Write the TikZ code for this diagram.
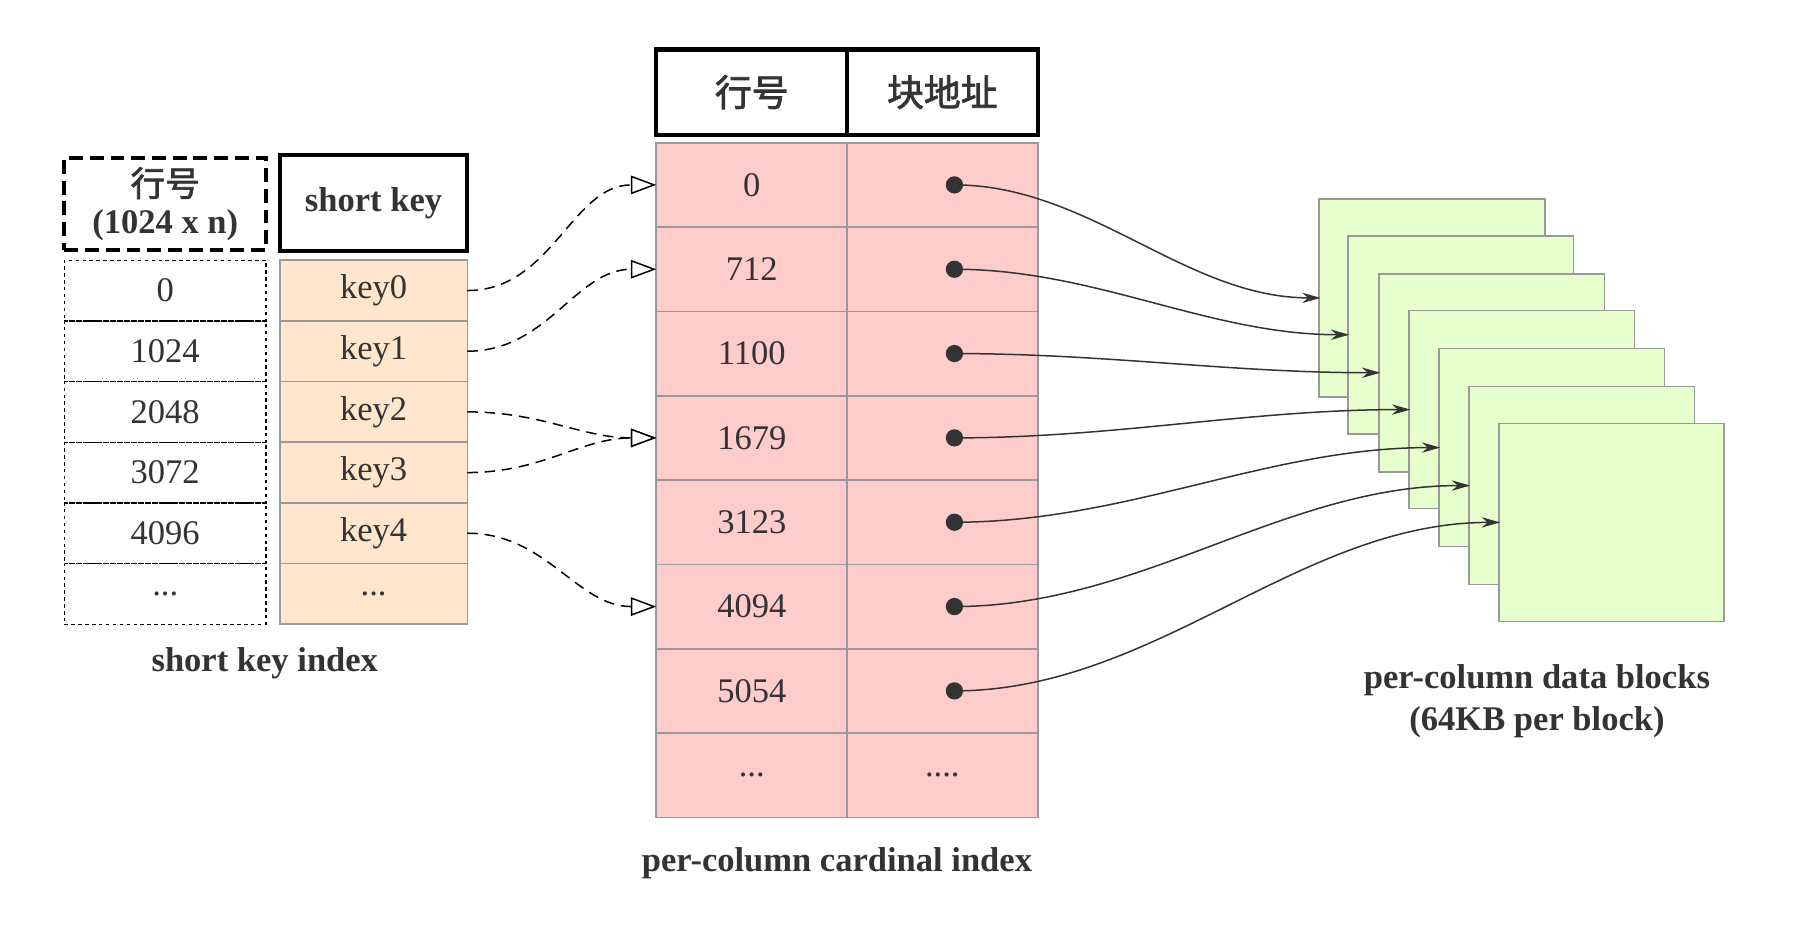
\documentclass[tikz,border=0pt]{standalone}
\usepackage{fontspec}
\setmainfont{Liberation Serif}
\newfontfamily\cjk{Noto Sans CJK SC}[AutoFakeBold=2]
\usetikzlibrary{arrows.meta}
\definecolor{tx}{HTML}{333333}
\definecolor{gr}{HTML}{999999}
\begin{document}
\begin{tikzpicture}[x=1pt,y=-1pt,
  every node/.style={text=tx,font=\fontsize{30}{36}\selectfont},
  cell/.style={draw=gr,line width=1.5pt,minimum width=#1,inner sep=0pt,outer sep=0pt},
  dcell/.style={draw=black,dashed,line width=1.2pt,minimum width=175,minimum height=52.7,inner sep=0pt,outer sep=0pt},
  kcell/.style={cell=163,fill={rgb,255:red,255;green,230;blue,204},minimum height=52.7},
  pcell/.style={cell=166,fill={rgb,255:red,255;green,204;blue,204},minimum height=73.25},
  blk/.style={draw=gr,line width=1.5pt,fill={rgb,255:red,230;green,255;blue,204},minimum width=196,minimum height=172,inner sep=0pt},
  hd/.style={draw=black,line width=3.5pt,inner sep=0pt,outer sep=0pt},
  sarr/.style={draw=tx,line width=1.3pt,-{Stealth[length=16pt,width=9pt]}},
  darr/.style={draw=black,line width=1.3pt,dash pattern=on 9pt off 6pt,-{Triangle[open,length=22pt,width=16pt,fill=white]}},
  captxt/.style={font=\fontsize{30}{36}\selectfont\bfseries}]
\useasboundingbox (0,0) rectangle (1560,804);
% left table
\node[hd,dash pattern=on 12pt off 6pt,minimum width=175,minimum height=80,align=center] (lh) at (143.5,177) {{\cjk\bfseries 行号}\\[-4pt]\textbf{(1024 x n)}};
\node[hd,minimum width=163,minimum height=83,captxt] (kh) at (324.5,176.5) {short key};
\foreach \t [count=\i from 0] in {0,1024,2048,3072,4096}{
  \node[dcell] (l\i) at (143.5,252.35+52.7*\i) {\t};
}
\node[dcell] (l5) at (143.5,515.85) {...};
\foreach \t [count=\i from 0] in {key0,key1,key2,key3,key4}{
  \node[kcell] (k\i) at (324.5,252.35+52.7*\i) {\t};
}
\node[kcell] (k5) at (324.5,515.85) {...};
\node[captxt] (c1) at (230,576) {short key index};
% middle
\node[hd,minimum width=166,minimum height=74,font=\fontsize{32}{36}\selectfont\cjk\bfseries] (h1) at (653,80) {行号};
\node[hd,minimum width=166,minimum height=74,font=\fontsize{32}{36}\selectfont\cjk\bfseries] (h2) at (818.5,80) {块地址};
\foreach \t [count=\i from 0] in {0,712,1100,1679,3123,4094,5054}{
  \node[pcell] (a\i) at (653,160.6+73.25*\i) {\t};
  \node[pcell] (b\i) at (818.5,160.6+73.25*\i) {};
}
\node[pcell] (a7) at (653,673.35) {...};
\node[pcell] (b7) at (818.5,673.35) {....};
\node[captxt] (c2) at (727,750) {per-column cardinal index};
% blocks
\foreach \x/\y [count=\i from 0] in {1145/172,1170/204,1197/237,1223/269,1249/302,1275/335,1301/367}{
  \node[blk,anchor=north west] (g\i) at (\x,\y) {};
}
\node[captxt,align=center] (c3) at (1335,609) {per-column data blocks\\(64KB per block)};
% dots and arrows
\foreach \i in {0,1,2,3,4,5,6}{
  \fill[tx] (829,160.6+73.25*\i) circle (7.5pt) coordinate (d\i);
}
\foreach \i in {0,1,2,3,4,5,6}{
  \path[sarr] (d\i) to[out=0,in=180,looseness=0.9] ([xshift=2pt]g\i.west);
}
% dashed arrows
\path[darr] (k0.east) to[out=0,in=180] (a0.west);
\path[darr] (k1.east) to[out=0,in=180] (a1.west);
\path[darr] (k2.east) to[out=0,in=180] (a3.west);
\path[darr] (k3.east) to[out=0,in=180] (a3.west);
\path[darr] (k4.east) to[out=0,in=180] (a5.west);
\end{tikzpicture}
\end{document}
